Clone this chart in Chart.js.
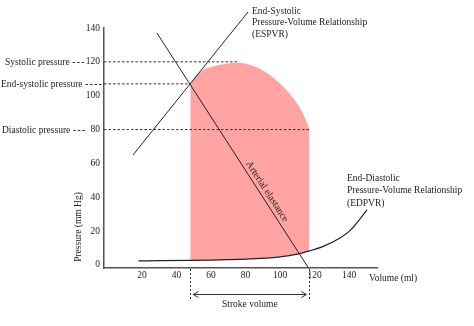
<!DOCTYPE html>
<html><head><meta charset="utf-8">
<script src="https://cdn.jsdelivr.net/npm/chart.js@4"></script>
<style>html,body{margin:0;padding:0;background:#fff}</style>
</head><body>
<canvas id="c" width="474" height="326" style="width:474px;height:326px;display:block"></canvas>
<script>
// ---- data ----
const xTicks = [20, 40, 60, 80, 100, 120, 140];
const yTicks = [0, 20, 40, 60, 80, 100, 120, 140];

const edpvrVolume   = [18, 30, 48, 60, 80, 100, 110, 117, 125, 134, 141, 150.4];
const edpvrPressure = [2.4, 2.5, 2.7, 2.9, 3.4, 4.8, 6.4, 8.3, 11, 15.5, 20.7, 32.5];

const loopTopVolume   = [48, 52.5, 60.6, 68.1, 75.7, 83.8, 91.3, 98.8, 104.6, 110.4, 114.5, 117];
const loopTopPressure = [107, 113.2, 117.1, 118.8, 119.4, 117.8, 114.2, 108.3, 102.4, 94.5, 86.8, 80];

const espvrVolume   = [14.8, 81.4];
const espvrPressure = [65, 149.4];

const eaVolume   = [28.7, 116.5];
const eaPressure = [137, -1.8];

const systolicPressure = 120, endSystolicPressure = 107, diastolicPressure = 80;
const endSystolicVolume = 48, endDiastolicVolume = 117;
const systolicDashEndVolume = 75;

const labelFont = '9.5px "Liberation Serif", "Times New Roman", serif';
const ink = '#222';

const pts = (xs, ys) => xs.map((x, i) => ({x, y: ys[i]}));

const annotations = {
  id: 'annotations',
  afterDraw(chart) {
    const ctx = chart.ctx, xs = chart.scales.x, ys = chart.scales.y, ca = chart.chartArea;
    ctx.save();
    ctx.font = labelFont;
    ctx.fillStyle = ink;
    ctx.strokeStyle = '#333';
    ctx.lineWidth = 1;

    const dash = (x1, y1, x2, y2, pat) => {
      ctx.save(); ctx.setLineDash(pat); ctx.beginPath();
      ctx.moveTo(x1, y1); ctx.lineTo(x2, y2); ctx.stroke(); ctx.restore();
    };
    const text = (t, x, y, align) => {
      ctx.textAlign = align || 'left'; ctx.textBaseline = 'middle'; ctx.fillText(t, x, y);
    };

    // left side labels with dashes
    const leftLabels = [
      ['Systolic pressure', 5, systolicPressure, 84],
      ['End-systolic pressure', 1, endSystolicPressure, ca.left],
      ['Diastolic pressure', 2, diastolicPressure, 87]
    ];
    leftLabels.forEach(([t, x, v, end]) => {
      const y = Math.round(ys.getPixelForValue(v)) + 0.5;
      text(t, x, y);
      const w = ctx.measureText(t).width;
      dash(x + w + 3, y, end, y, [2.5, 2]);
    });

    // vertical dotted lines below the axis
    const axisY = ca.bottom;
    [endSystolicVolume, endDiastolicVolume].forEach(v => {
      const x = Math.round(xs.getPixelForValue(v)) + 0.5;
      dash(x, axisY + 1, x, axisY + 33, [2, 2]);
    });

    // stroke volume arrow
    const xa = xs.getPixelForValue(endSystolicVolume) + 3;
    const xb = xs.getPixelForValue(endDiastolicVolume) - 3;
    const ay = axisY + 26.5;
    ctx.beginPath();
    ctx.moveTo(xa, ay); ctx.lineTo(xb, ay);
    ctx.moveTo(xa + 5, ay - 3); ctx.lineTo(xa, ay); ctx.lineTo(xa + 5, ay + 3);
    ctx.moveTo(xb - 5, ay - 3); ctx.lineTo(xb, ay); ctx.lineTo(xb - 5, ay + 3);
    ctx.stroke();
    text('Stroke volume', (xa + xb) / 2, axisY + 36, 'center');

    // axis titles
    text('Volume (ml)', ca.right - 8, axisY + 10);
    ctx.save();
    ctx.translate(78, 227);
    ctx.rotate(-Math.PI / 2);
    text('Pressure (mm Hg)', 0, 0, 'center');
    ctx.restore();

    // relationship annotations
    ['End-Systolic', 'Pressure-Volume Relationship', '(ESPVR)'].forEach((t, i) => text(t, 252, 11.5 + i * 11.4));
    ['End-Diastolic', 'Pressure-Volume Relationship', '(EDPVR)'].forEach((t, i) => text(t, 347, 178.5 + i * 12.3));

    // arterial elastance label along its line
    const p1x = xs.getPixelForValue(eaVolume[0]), p1y = ys.getPixelForValue(eaPressure[0]);
    const p2x = xs.getPixelForValue(eaVolume[1]), p2y = ys.getPixelForValue(eaPressure[1]);
    const ang = Math.atan2(p2y - p1y, p2x - p1x);
    const t = 0.69;
    const cx = p1x + t * (p2x - p1x) + 6.5 * Math.sin(ang);
    const cy = p1y + t * (p2y - p1y) - 6.5 * Math.cos(ang);
    ctx.save();
    ctx.translate(cx, cy);
    ctx.rotate(ang);
    ctx.font = '10px "Liberation Serif", "Times New Roman", serif';
    text('Arterial elastance', 0, 0, 'center');
    ctx.restore();

    ctx.restore();
  }
};

const lineDs = (data, extra) => Object.assign({
  data, showLine: true, pointRadius: 0, borderColor: ink, borderWidth: 1, fill: false, order: 1
}, extra || {});

const tickFont = {family: '"Liberation Serif", serif', size: 9.5};

new Chart(document.getElementById('c'), {
  type: 'scatter',
  data: {
    datasets: [
      lineDs(pts(edpvrVolume, edpvrPressure), {cubicInterpolationMode: 'monotone', borderWidth: 1.2}),
      lineDs(pts(espvrVolume, espvrPressure), {clip: false}),
      lineDs(pts(eaVolume, eaPressure), {clip: false}),
      lineDs([{x: -2, y: systolicPressure}, {x: systolicDashEndVolume, y: systolicPressure}], {borderDash: [2.5, 2], borderColor: '#333'}),
      lineDs([{x: -2, y: endSystolicPressure}, {x: endSystolicVolume, y: endSystolicPressure}], {borderDash: [2.5, 2], borderColor: '#333'}),
      lineDs([{x: -2, y: diastolicPressure}, {x: endDiastolicVolume, y: diastolicPressure}], {borderDash: [2.5, 2], borderColor: '#333'}),
      {
        data: pts(loopTopVolume, loopTopPressure), showLine: true, pointRadius: 0,
        borderWidth: 0, borderColor: 'rgba(0,0,0,0)', backgroundColor: '#ffa3a3',
        cubicInterpolationMode: 'monotone', fill: {target: 0}, order: 10
      }
    ]
  },
  options: {
    responsive: false, animation: false, devicePixelRatio: 1,
    layout: {padding: {left: 67, right: 97, top: 28, bottom: 38}},
    plugins: {legend: {display: false}, tooltip: {enabled: false}},
    scales: {
      x: {
        type: 'linear', min: -2, max: 156.2,
        grid: {display: false, drawTicks: false},
        border: {color: '#555', width: 1.5},
        ticks: {font: tickFont, color: ink, padding: 2, maxRotation: 0},
        afterBuildTicks: s => { s.ticks = xTicks.map(v => ({value: v})); },
        afterFit: s => { s.height = 20; }
      },
      y: {
        type: 'linear', min: -1.8, max: 140,
        grid: {display: false, drawTicks: false},
        border: {color: '#555', width: 1.5},
        ticks: {font: tickFont, color: ink, padding: 4},
        afterBuildTicks: s => { s.ticks = yTicks.map(v => ({value: v})); },
        afterFit: s => { s.width = 37; }
      }
    }
  },
  plugins: [annotations]
});
</script>
</body></html>
